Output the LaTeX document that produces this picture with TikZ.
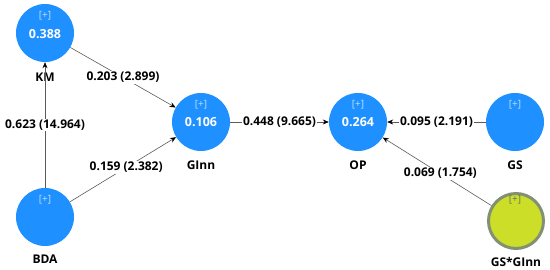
\documentclass[tikz,border=0pt]{standalone}
\usepackage{fontspec}
\setmainfont{Open Sans}
\usetikzlibrary{arrows.meta}
\definecolor{lvblue}{RGB}{30,144,255}
\definecolor{plusblue}{RGB}{190,225,255}
\definecolor{modgreen}{RGB}{204,222,40}
\definecolor{modborder}{RGB}{130,145,115}
\definecolor{edgegray}{RGB}{90,90,90}
\tikzset{
  lv/.style={circle,fill=lvblue,minimum size=58pt,inner sep=0pt},
  lvmod/.style={circle,fill=modgreen,draw=modborder,line width=3pt,minimum size=55pt,inner sep=0pt},
  lvname/.style={font=\bfseries\fontsize{12}{13}\selectfont,text=black},
  val/.style={font=\bfseries\fontsize{12.5}{13}\selectfont,text=white},
  plus/.style={font=\fontsize{10}{11}\selectfont,text=plusblue},
  plusg/.style={font=\fontsize{10}{11}\selectfont,text=modborder!80!black},
  path/.style={draw=edgegray,line width=0.6pt,-{Stealth[length=6pt,width=5pt,color=black]}},
  coef/.style={font=\bfseries\fontsize{12}{13}\selectfont,fill=white,inner sep=1pt,text=black}
}
\begin{document}
\begin{tikzpicture}[x=1pt,y=-1pt]
\useasboundingbox (0,0) rectangle (550,270);
% latent variables
\node[lv] (KM) at (45,33) {};
\node[lv] (BDA) at (45,217) {};
\node[lv] (GInn) at (201,122) {};
\node[lv] (OP) at (358,122) {};
\node[lv] (GS) at (515,122) {};
\node[lvmod] (GSG) at (516,221) {};
% inner texts
\node[plus] (KMp) at (45,16) {[+]};
\node[val] (KMv) at (45,34) {0.388};
\node[plus] (BDAp) at (45,200) {[+]};
\node[plus] (GInnp) at (201,105) {[+]};
\node[val] (GInnv) at (201,122) {0.106};
\node[plus] (OPp) at (358,105) {[+]};
\node[val] (OPv) at (358,122) {0.264};
\node[plus] (GSp) at (515,105) {[+]};
\node[plusg] (GSGp) at (515,200) {[+]};
% names
\node[lvname] (KMn) at (45,77) {KM};
\node[lvname] (BDAn) at (45,259) {BDA};
\node[lvname] (GInnn) at (201,165) {GInn};
\node[lvname] (OPn) at (358,165) {OP};
\node[lvname] (GSn) at (515,165) {GS};
\node[lvname] (GSGn) at (516,262) {GS*GInn};
% paths
\draw[path] (KM) -- node[coef] (e1) {0.203 (2.899)} (GInn);
\draw[path] (BDA) -- node[coef] (e2) {0.623 (14.964)} (KM);
\draw[path] (BDA) -- node[coef,pos=0.53] (e3) {0.159 (2.382)} (GInn);
\draw[path] (GInn) -- node[coef] (e4) {0.448 (9.665)} (OP);
\draw[path] (GS) -- node[coef] (e5) {0.095 (2.191)} (OP);
\draw[path] (GSG) -- node[coef,pos=0.47] (e6) {0.069 (1.754)} (OP);
\end{tikzpicture}
\end{document}
